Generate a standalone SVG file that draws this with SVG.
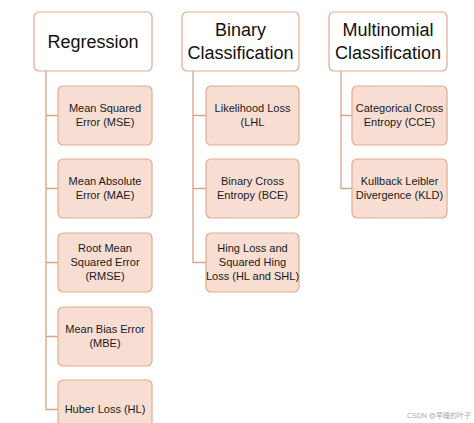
<svg xmlns="http://www.w3.org/2000/svg" width="474" height="423" viewBox="0 0 474 423">
<style>
.head{fill:#fff;stroke:#e3ab8e;stroke-width:1.2}
.item{fill:#f8ddd2;stroke:#e3ab8e;stroke-width:1.2}
.ht{font-family:"Liberation Sans",Arial,sans-serif;font-size:18px;fill:#111;text-anchor:middle}
.it{font-family:"Liberation Sans",Arial,sans-serif;font-size:11px;fill:#1a1a1a;text-anchor:middle}
.conn{fill:none;stroke:#d9a487;stroke-width:1.3}
.wm{font-family:"Liberation Sans","Noto Sans CJK SC",sans-serif;font-size:7px;fill:#aaa}
</style>
<rect width="474" height="423" fill="#fff"/>
<g id="connectors">
<path class="conn" d="M46,71V409.5H58M46,115.5H58M46,188.5H58M46,262.5H58M46,336.5H58"/>
<path class="conn" d="M193,71V262.5H206M193,115.5H206M193,188.5H206"/>
<path class="conn" d="M341,71V188.5H352M341,115.5H352"/>
</g>
<g id="regression"><rect class="head" x="34" y="12" width="118" height="59" rx="5"/><text class="ht" x="93" y="48">Regression</text></g>
<g id="binary"><rect class="head" x="182" y="12" width="117" height="59" rx="5"/><text class="ht" x="240.5" y="36">Binary</text><text class="ht" x="240.5" y="59">Classification</text></g>
<g id="multinomial"><rect class="head" x="329" y="12" width="118" height="59" rx="5"/><text class="ht" x="388" y="36">Multinomial</text><text class="ht" x="388" y="59">Classification</text></g>

<g id="mse"><rect class="item" x="58" y="86" width="94" height="59" rx="5"/><text class="it" x="105" y="112">Mean Squared</text><text class="it" x="105" y="126">Error (MSE)</text></g>
<g id="mae"><rect class="item" x="58" y="159" width="94" height="59" rx="5"/><text class="it" x="105" y="185">Mean Absolute</text><text class="it" x="105" y="199">Error (MAE)</text></g>
<g id="rmse"><rect class="item" x="58" y="233" width="94" height="59" rx="5"/><text class="it" x="105" y="252">Root Mean</text><text class="it" x="105" y="266">Squared Error</text><text class="it" x="105" y="280">(RMSE)</text></g>
<g id="mbe"><rect class="item" x="58" y="307" width="94" height="59" rx="5"/><text class="it" x="105" y="333">Mean Bias Error</text><text class="it" x="105" y="347">(MBE)</text></g>
<g id="hl"><rect class="item" x="58" y="380" width="94" height="59" rx="5"/><text class="it" x="105" y="413">Huber Loss (HL)</text></g>

<g id="lhl"><rect class="item" x="206" y="86" width="93" height="59" rx="5"/><text class="it" x="252.5" y="112">Likelihood Loss</text><text class="it" x="252.5" y="126">(LHL</text></g>
<g id="bce"><rect class="item" x="206" y="159" width="93" height="59" rx="5"/><text class="it" x="252.5" y="185">Binary Cross</text><text class="it" x="252.5" y="199">Entropy (BCE)</text></g>
<g id="hinge"><rect class="item" x="206" y="233" width="93" height="59" rx="5"/><text class="it" x="252.5" y="252">Hing Loss and</text><text class="it" x="252.5" y="266">Squared Hing</text><text class="it" x="252.5" y="280">Loss (HL and SHL)</text></g>

<g id="cce"><rect class="item" x="352" y="86" width="95" height="59" rx="5"/><text class="it" x="399.5" y="112">Categorical Cross</text><text class="it" x="399.5" y="126">Entropy (CCE)</text></g>
<g id="kld"><rect class="item" x="352" y="159" width="95" height="59" rx="5"/><text class="it" x="399.5" y="185">Kullback Leibler</text><text class="it" x="399.5" y="199">Divergence (KLD)</text></g>

<text class="wm" x="407" y="418">CSDN @早睡的叶子</text>
</svg>
